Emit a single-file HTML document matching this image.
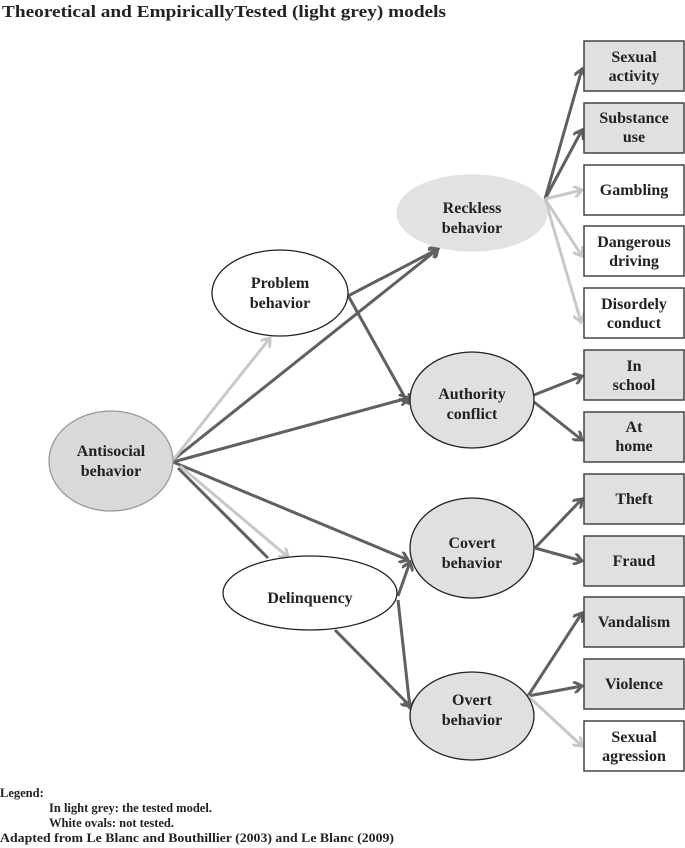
<!DOCTYPE html>
<html><head><style>html,body{margin:0;padding:0;background:#fff;}svg{display:block}</style></head><body>
<svg width="685" height="848" viewBox="0 0 685 848" xmlns="http://www.w3.org/2000/svg" font-family="'Liberation Serif',serif" font-weight="bold">
<defs>
<marker id="ad" markerWidth="12" markerHeight="12" refX="9" refY="6" orient="auto" markerUnits="userSpaceOnUse"><path d="M1,0 L9,6 L1,12" fill="none" stroke="#606060" stroke-width="3"/></marker>
<marker id="al" markerWidth="12" markerHeight="12" refX="9" refY="6" orient="auto" markerUnits="userSpaceOnUse"><path d="M1,0 L9,6 L1,12" fill="none" stroke="#c8c8c8" stroke-width="3"/></marker>
</defs>
<text x="2" y="17" font-size="17" textLength="444" lengthAdjust="spacingAndGlyphs" fill="#222">Theoretical and EmpiricallyTested (light grey) models</text>

<g stroke="#606060" stroke-width="3" fill="none">
<line x1="173" y1="460" x2="438" y2="249" marker-end="url(#ad)"/>
<line x1="348" y1="296" x2="438" y2="249" marker-end="url(#ad)"/>
<line x1="345" y1="290" x2="408" y2="403" marker-end="url(#ad)"/>
<line x1="173" y1="462" x2="408" y2="398" marker-end="url(#ad)"/>
<line x1="173" y1="462" x2="408" y2="560" marker-end="url(#ad)"/>
<line x1="178" y1="468" x2="268" y2="558"/>
<line x1="398" y1="596" x2="410" y2="562" marker-end="url(#ad)"/>
<line x1="398" y1="600" x2="410" y2="708" marker-end="url(#ad)"/>
<line x1="335" y1="630" x2="410" y2="706" marker-end="url(#ad)"/>
<line x1="545" y1="199" x2="582" y2="69" marker-end="url(#ad)"/>
<line x1="545" y1="199" x2="582" y2="130" marker-end="url(#ad)"/>
<line x1="534" y1="395" x2="582" y2="376" marker-end="url(#ad)"/>
<line x1="534" y1="402" x2="582" y2="440" marker-end="url(#ad)"/>
<line x1="535" y1="548" x2="582" y2="499" marker-end="url(#ad)"/>
<line x1="535" y1="548" x2="582" y2="561" marker-end="url(#ad)"/>
<line x1="528" y1="696" x2="582" y2="613" marker-end="url(#ad)"/>
<line x1="528" y1="696" x2="582" y2="686" marker-end="url(#ad)"/>
</g>
<g stroke="#c8c8c8" stroke-width="3" fill="none">
<line x1="173" y1="460" x2="270" y2="338" marker-end="url(#al)"/>
<line x1="180" y1="466" x2="288" y2="557" marker-end="url(#al)"/>
<line x1="545" y1="199" x2="582" y2="190" marker-end="url(#al)"/>
<line x1="545" y1="199" x2="582" y2="256" marker-end="url(#al)"/>
<line x1="545" y1="199" x2="581" y2="322" marker-end="url(#al)"/>
<line x1="528" y1="696" x2="582" y2="746" marker-end="url(#al)"/>
</g>

<g stroke="#222" stroke-width="1.3">
<ellipse cx="111" cy="461" rx="62" ry="50" fill="#d9d9d9" stroke="#999"/>
<ellipse cx="280" cy="293" rx="68" ry="43" fill="#fff"/>
<ellipse cx="472" cy="213" rx="75" ry="38" fill="#e2e2e2" stroke="#e2e2e2"/>
<ellipse cx="472" cy="400" rx="62" ry="48" fill="#e0e0e0"/>
<ellipse cx="472" cy="548" rx="62" ry="50" fill="#e0e0e0"/>
<ellipse cx="310" cy="593" rx="87" ry="37" fill="#fff"/>
<ellipse cx="472" cy="716" rx="62" ry="44" fill="#e0e0e0"/>
</g>

<g font-size="16" text-anchor="middle" fill="#222">
<text x="111" y="456">Antisocial</text><text x="111" y="476">behavior</text>
<text x="280" y="288">Problem</text><text x="280" y="308">behavior</text>
<text x="472" y="213">Reckless</text><text x="472" y="233">behavior</text>
<text x="472" y="399">Authority</text><text x="472" y="419">conflict</text>
<text x="472" y="548">Covert</text><text x="472" y="568">behavior</text>
<text x="310" y="603">Delinquency</text>
<text x="472" y="705">Overt</text><text x="472" y="725">behavior</text>
</g>

<g stroke="#444" stroke-width="1.5">
<rect x="584" y="41" width="100" height="50" fill="#e0e0e0"/>
<rect x="584" y="103" width="100" height="50" fill="#e0e0e0"/>
<rect x="584" y="165" width="100" height="50" fill="#fff"/>
<rect x="584" y="226" width="100" height="50" fill="#fff"/>
<rect x="584" y="288" width="100" height="50" fill="#fff"/>
<rect x="584" y="350" width="100" height="50" fill="#e0e0e0"/>
<rect x="584" y="412" width="100" height="50" fill="#e0e0e0"/>
<rect x="584" y="474" width="100" height="50" fill="#e0e0e0"/>
<rect x="584" y="536" width="100" height="50" fill="#e0e0e0"/>
<rect x="584" y="597" width="100" height="50" fill="#e0e0e0"/>
<rect x="584" y="659" width="100" height="50" fill="#e0e0e0"/>
<rect x="584" y="721" width="100" height="50" fill="#fff"/>
</g>
<g font-size="16" text-anchor="middle" fill="#222">
<text x="634" y="62">Sexual</text><text x="634" y="81">activity</text>
<text x="634" y="123">Substance</text><text x="634" y="142">use</text>
<text x="634" y="195">Gambling</text>
<text x="634" y="247">Dangerous</text><text x="634" y="266">driving</text>
<text x="634" y="309">Disordely</text><text x="634" y="328">conduct</text>
<text x="634" y="371">In</text><text x="634" y="390">school</text>
<text x="634" y="432">At</text><text x="634" y="451">home</text>
<text x="634" y="504">Theft</text>
<text x="634" y="566">Fraud</text>
<text x="634" y="627">Vandalism</text>
<text x="634" y="689">Violence</text>
<text x="634" y="742">Sexual</text><text x="634" y="761">agression</text>
</g>

<g font-size="12.5" fill="#222">
<text x="0" y="797">Legend:</text>
<text x="49" y="812">In light grey: the tested model.</text>
<text x="49" y="827">White ovals: not tested.</text>
<text x="0" y="842" textLength="394" lengthAdjust="spacingAndGlyphs">Adapted from Le Blanc and Bouthillier (2003) and Le Blanc (2009)</text>
</g>
</svg>
</body></html>
